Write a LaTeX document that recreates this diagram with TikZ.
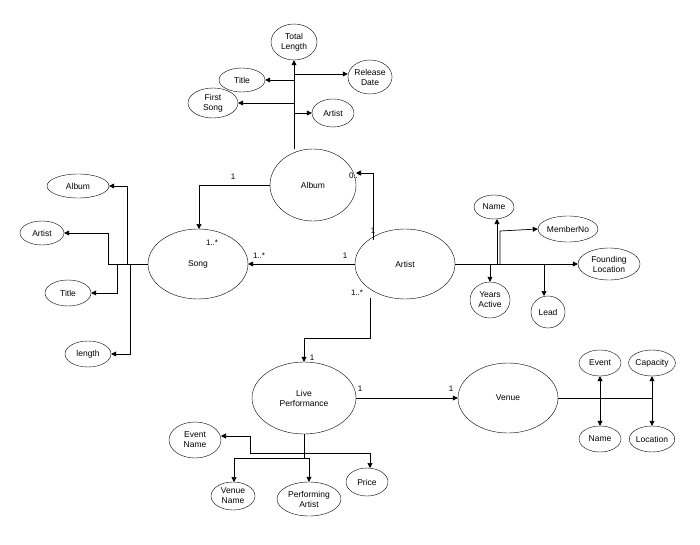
\documentclass[tikz,border=0pt]{standalone}
\usepackage{fontspec}
\setmainfont{Liberation Sans}
\usetikzlibrary{arrows.meta,shapes.geometric}
\begin{document}
\begin{tikzpicture}[x=1pt,y=-1pt,
  attr/.style={draw,ellipse,inner sep=0pt,align=center,font=\fontsize{8.5}{10}\selectfont},
  ent/.style={draw,ellipse,inner sep=0pt,align=center,font=\fontsize{8.5}{10}\selectfont},
  conn/.style={-{Triangle[length=5pt,width=5pt]},line width=0.7pt},
  dbl/.style={{Triangle[length=5pt,width=5pt]}-{Triangle[length=5pt,width=5pt]},line width=0.7pt},
  plain/.style={line width=0.7pt},
  lab/.style={font=\fontsize{8}{9}\selectfont,inner sep=1pt}]
\useasboundingbox (0,0) rectangle (700,545);
\node[attr,minimum width=46,minimum height=36] (tl) at (294,42) {Total\\Length};
\node[attr,minimum width=46,minimum height=24] (atitle) at (242,80) {Title};
\node[attr,minimum width=44,minimum height=34] (rd) at (370,77) {Release\\Date};
\node[attr,minimum width=50,minimum height=30] (fs) at (213,103) {First\\Song};
\node[attr,minimum width=42,minimum height=28] (aartist) at (333,113) {Artist};
\node[ent,minimum width=86,minimum height=72] (album) at (313,185) {Album};
\node[attr,minimum width=62,minimum height=24] (salbum) at (78,186) {Album};
\node[attr,minimum width=44,minimum height=24] (sartist) at (42,233) {Artist};
\node[attr,minimum width=46,minimum height=26] (stitle) at (68,293) {Title};
\node[attr,minimum width=46,minimum height=26] (slen) at (88,354) {length};
\node[ent,minimum width=100,minimum height=70] (song) at (198,264) {Song};
\node[ent,minimum width=100,minimum height=70] (artist) at (405,264) {Artist};
\node[attr,minimum width=40,minimum height=24] (name) at (494,207) {Name};
\node[attr,minimum width=60,minimum height=26] (mno) at (568,229) {MemberNo};
\node[attr,minimum width=62,minimum height=32] (fl) at (609,264) {Founding\\Location};
\node[attr,minimum width=40,minimum height=36] (ya) at (490,300) {Years\\Active};
\node[attr,minimum width=34,minimum height=32] (lead) at (548,312) {Lead};
\node[ent,minimum width=104,minimum height=72] (lp) at (304,398) {Live\\Performance};
\node[ent,minimum width=100,minimum height=70] (venue) at (508,398) {Venue};
\node[attr,minimum width=42,minimum height=26] (vevent) at (600,363) {Event};
\node[attr,minimum width=44,minimum height=26] (vcap) at (652,363) {Capacity};
\node[attr,minimum width=42,minimum height=26] (vname) at (600,439) {Name};
\node[attr,minimum width=44,minimum height=26] (vloc) at (652,439) {Location};
\node[attr,minimum width=52,minimum height=36] (en) at (195,440) {Event\\Name};
\node[attr,minimum width=44,minimum height=28] (vn) at (233,496) {Venue\\Name};
\node[attr,minimum width=64,minimum height=34] (pa) at (309,499) {Performing\\Artist};
\node[attr,minimum width=42,minimum height=28] (price) at (367,482) {Price};
% album attributes
\draw[conn] (294,149) -- (tl.south);
\draw[conn] (294,74) -- (rd.west |- 294,74);
\draw[conn] (294,80) -- (atitle.east);
\draw[conn] (294,103) -- (fs.east);
\draw[conn] (294,113) -- (aartist.west);
% relationships
\draw[conn] (album.west) -- (199,185) -- (199,229);
\node[lab] at (233,177) {1};
\node[lab] at (212,243) {1..*};
\draw[conn] (373,240) -- (373,173) -- (356,173);
\node[lab] at (355,176) {0..*};
\node[lab] at (373,231) {1};
\draw[conn] (artist.west) -- (song.east);
\node[lab] at (345,256) {1};
\node[lab] at (259,256) {1..*};
\draw[conn] (370,298) -- (370,338) -- (304,338) -- (lp.north);
\node[lab] at (357,293) {1..*};
\node[lab] at (312,358) {1};
\draw[conn] (lp.east) -- (venue.west);
\node[lab] at (360,389) {1};
\node[lab] at (451,389) {1};
% song attributes
\draw[plain] (song.west) -- (108,264);
\draw[conn] (127,264) -- (127,186) -- (salbum.east);
\draw[conn] (108,264) -- (108,233) -- (sartist.east);
\draw[conn] (117,264) -- (117,293) -- (stitle.east);
\draw[conn] (130,264) -- (130,354) -- (slen.east);
% artist attributes
\draw[conn] (artist.east) -- (fl.west);
\draw[conn] (497,264) -- (497,219);
\draw[conn] (500,264) -- (500,231) -- (mno.west);
\draw[conn] (490,264) -- (ya.north);
\draw[conn] (544,264) -- (544,296);
% venue attributes
\draw[plain] (venue.east) -- (652,398);
\draw[dbl] (vevent.south) -- (vname.north);
\draw[dbl] (vcap.south) -- (vloc.north);
% live performance attributes
\draw[plain] (lp.south) -- (304,458);
\draw[conn] (304,458) -- (234,458) -- (234,482);
\draw[conn] (304,458) -- (309,458) -- (pa.north);
\draw[conn] (250,453) -- (250,436) -- (221,436);
\draw[conn] (250,453) -- (370,453) -- (370,468);
\end{tikzpicture}
\end{document}
